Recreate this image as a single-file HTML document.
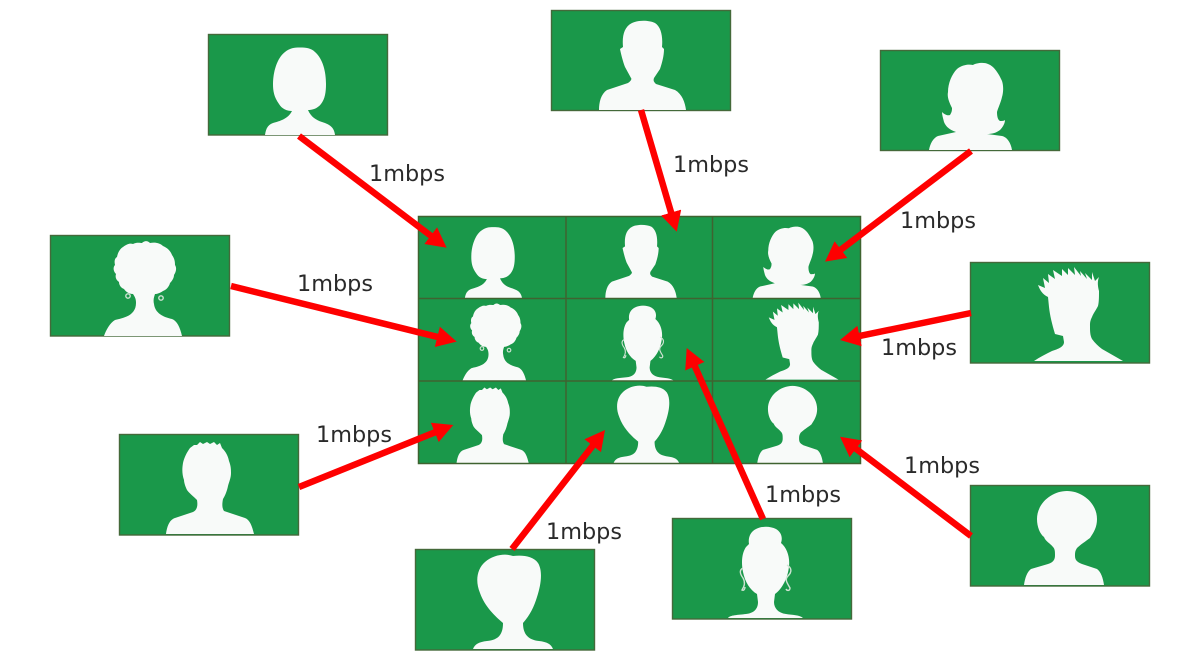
<!DOCTYPE html>
<html><head><meta charset="utf-8"><title>Diagram</title>
<style>
html,body{margin:0;padding:0;background:#fff;width:1200px;height:660px;overflow:hidden}
svg{display:block}
text{font-family:"DejaVu Sans",sans-serif;font-size:22.3px;fill:#2a2a2a}
.t{fill:#1a984a;stroke:#44693a;stroke-width:1.4}
.s{fill:#f8faf9}
.c{fill:none;stroke:#cfe3d3;stroke-width:1.4}
.a{stroke:#fe0000;stroke-width:6.5;fill:none}
</style></head><body>
<svg width="1200" height="660" viewBox="0 0 1200 660" xmlns="http://www.w3.org/2000/svg">
<defs>
<marker id="h" markerUnits="userSpaceOnUse" markerWidth="24" markerHeight="24" refX="6" refY="10.5" orient="auto"><path d="M0,0 L20,10.5 L0,21 Z" fill="#fe0000"/></marker>
<symbol id="p1" overflow="visible"><path class="s" d="M57,101 C58,94 60,91 65,89 C72,87 80,85 84,77 C79,77 74,75 71,70 C66,63 65,57 65,50 C65,38 69,24 77,18 C82,14 86,13.500 92,13.500 C98,13.500 103,14 107,18 C115,25 118,38 118,50 C118,58 117,65 113,70 C109,75 104,76 100,76 C103,83 108,86 114,88 C120,90 126,92 127,101 Z"/></symbol>
<symbol id="p2" overflow="visible"><path class="s" d="M48,100 C48,92 50,84 56,80 L77,73 C80,71 81,69 80,68 L74,57 C72,52 70,44 69,39 L72,37 C71,26 73,17 81,13 C87,10 98,10 104,13 C110,17 112,26 111,37 L113,39 C113,46 111,53 109,59 L103,68 C102,71 103,72 105,74 L124,80 C131,84 134,92 135,100 Z"/></symbol>
<symbol id="p3" overflow="visible"><path class="s" d="M49,100 C50,94 53,88 58,86 L76,82 C70,80 66,77 64,72 C63,68 62,65 62,62 C64,64 67,66 70,65 C72,62 72,60 72,58 C69,52 67,47 68,42 C68,33 72,24 77,19 C82,15 88,14 93,15 C96,13 104,12 108,14 C114,16 119,24 122,31 C124,37 123,44 122,47 C121,52 118,58 117,62 C117,67 118,70 120,71 C122,71 124,71 125,70 C125,74 122,78 120,80 C116,83 112,84 107,84 L122,86 C127,87 131,93 132,100 Z"/></symbol>
<symbol id="p4" overflow="visible"><path class="s" d="M54,101 C56,95 60,88 65,85 C73,83 86,81 86,68 C86,64 85,62 83,59 C79,59 76,57 74,54 C71,53 69,50 69,47 C66,45 65,42 66,39 C63,36 63,32 65,30 C64,26 65,23 67,22 C68,17 70,14 73,12 C77,9 80,8 83,9 C87,7 90,8 92,8 C95,5 98,6 100,8 C105,7 110,8 113,11 C118,13 121,17 122,20 C125,24 125,28 125,30 C127,33 126,37 124,40 C124,43 122,46 120,48 C119,52 116,55 113,56 C110,58 107,59 105,59 C104,62 103,65 104,69 C105,78 113,82 122,84 C127,86 130,92 132,101 Z"/><circle class="c" cx="78" cy="61" r="2.2"/><circle class="c" cx="111" cy="63" r="2.2"/></symbol>
<symbol id="p5" overflow="visible"><path class="s" d="M64,99 C70,95 76,92 82,89 C88,87 94,85 94,80 L93,74 L85,72 C82,62 80,54 79,45 L78,35 C72,32 70,28 68,23 L75,26 L73,16 L79,21 L78,12 L85,17 L83,8 L92,14 L92,7 L98,13 L98,6 L105,13 L104,5 L111,14 L110,9 L117,17 L115,11 L122,18 L122,10 L125,19 L129,15 C127,20 128,25 129,29 C129,35 129,40 128,44 C126,48 123,52 122,55 C120,59 120,61 120,64 C120,69 120,73 122,77 C125,81 128,84 132,87 L153,99 Z"/></symbol>
<symbol id="p6" overflow="visible"><path class="s" d="M56,100 C58,97 66,97 74,96 C83,95 86,90 86,84 L85,76 C78,72 73,64 71,54 C69,44 70,35 74,29 L77,26 C76,20 78,14 84,11 C90,8 98,8 104,11 C109,14 111,19 109,25 C115,30 118,39 117,48 C116,60 110,71 103,76 L102,84 C102,90 106,95 114,96 C120,97 128,97 131,100 Z"/><path class="c" d="M71,50 C67,52 68,56 71,60 C74,65 72,69 70,72 C72,73 73,71 73,69"/><path class="c" d="M115,47 C120,50 120,54 116,58 C112,62 116,66 118,70 C118,73 115,73 114,71"/></symbol>
<symbol id="p7" overflow="visible"><path class="s" d="M47,100 C48,93 50,86 56,84 L74,78 C78,76 79,72 78,66 C74,62 70,59 68,56 C66,52 65,48 65,46 C63,40 63,35 64,29 C65,24 68,18 71,14 L75,11 L78,11 L81,8 L84,10 L88,8 L91,10 L95,8 L98,11 L101,9 L103,14 C107,18 109,22 110,27 C112,32 112,36 112,39 C112,44 110,48 109,52 C108,57 106,62 104,65 C103,70 103,74 105,77 L126,84 C131,86 133,92 135,100 Z"/></symbol>
<symbol id="p8" overflow="visible"><path class="s" d="M58,100 C60,95 64,93 72,92 C82,91 88,87 88,74 C80,67 70,58 65,44 C60,32 62,20 70,13 C78,6 90,4 98,7 C108,6 118,7 123,14 C128,22 126,36 122,48 C119,58 115,66 108,74 C108,86 114,91 124,92 C132,93 136,95 138,100 Z"/></symbol>
<symbol id="p9" overflow="visible"><path class="s" d="M54,100 C55,93 57,87 61,84 L78,79 C84,77 85,74 85,70 C85,67 85,64 83,62 C80,58 76,57 74,52 C70,49 67,42 67,34 C67,18 82,6 97,6 C112,6 127,18 127,34 C127,42 124,47 120,53 C116,56 110,60 107,63 C105,66 105,68 105,71 C105,75 107,77 112,79 L127,84 C131,87 133,93 134,100 Z"/></symbol>
</defs>
<rect width="1200" height="660" fill="#fff"/>

<rect class="t" x="208.500" y="34.500" width="179" height="100.500"/><use href="#p1" x="208" y="34"/>
<rect class="t" x="551.500" y="10.500" width="179" height="100"/><use href="#p2" x="551" y="10"/>
<rect class="t" x="880.500" y="50.500" width="179" height="100"/><use href="#p3" x="880" y="50"/>
<rect class="t" x="50.500" y="235.500" width="179" height="100.500"/><use href="#p4" x="50" y="235"/>
<rect class="t" x="970.500" y="262.500" width="179" height="100.500"/><use href="#p5" x="970" y="262"/>
<rect class="t" x="119.500" y="434.500" width="179" height="100.500"/><use href="#p7" x="119" y="434"/>
<rect class="t" x="970.500" y="485.500" width="179" height="100.500"/><use href="#p9" x="970" y="485"/>
<rect class="t" x="415.500" y="549.500" width="179" height="100.500"/><use href="#p8" x="415" y="549"/>
<rect class="t" x="672.500" y="518.500" width="179" height="100.500"/><use href="#p6" x="672" y="518"/>

<rect x="418.500" y="216.500" width="442" height="247" fill="#1a984a"/>
<use href="#p1" transform="translate(418 216) scale(.82)"/>
<use href="#p2" transform="translate(566 216) scale(.82)"/>
<use href="#p3" transform="translate(712.500 216) scale(.82)"/>
<use href="#p4" transform="translate(418 298.500) scale(.82)"/>
<use href="#p6" transform="translate(566 298.500) scale(.82)"/>
<use href="#p5" transform="translate(713 298.500) scale(.82)"/>
<use href="#p7" transform="translate(418 381) scale(.82)"/>
<use href="#p8" transform="translate(566 381) scale(.82)"/>
<use href="#p9" transform="translate(713 381) scale(.82)"/>
<g fill="none" stroke="#3f6330" stroke-width="1.5">
<rect x="418.500" y="216.500" width="442" height="247"/>
<path d="M566,216.500V463.500M712.500,216.500V463.500M418.500,298.500H860.500M418.500,381H860.500"/>
</g>

<g class="arrows">
<line class="a" x1="299" y1="136" x2="435.500" y2="239.300" marker-end="url(#h)"/>
<line class="a" x1="641" y1="110" x2="672.800" y2="218.300" marker-end="url(#h)"/>
<line class="a" x1="971" y1="151" x2="836.200" y2="253.200" marker-end="url(#h)"/>
<line class="a" x1="231" y1="286" x2="443.100" y2="338.300" marker-end="url(#h)"/>
<line class="a" x1="971" y1="313" x2="853.700" y2="337.200" marker-end="url(#h)"/>
<line class="a" x1="763" y1="519" x2="692.400" y2="360.800" marker-end="url(#h)"/>
<line class="a" x1="299" y1="487" x2="440.300" y2="430.200" marker-end="url(#h)"/>
<line class="a" x1="512" y1="549" x2="596.400" y2="441" marker-end="url(#h)"/>
<line class="a" x1="971" y1="536" x2="851.200" y2="445.200" marker-end="url(#h)"/>
</g>

<text x="369" y="181" textLength="76" lengthAdjust="spacingAndGlyphs">1mbps</text>
<text x="673" y="172" textLength="76" lengthAdjust="spacingAndGlyphs">1mbps</text>
<text x="900" y="228" textLength="76" lengthAdjust="spacingAndGlyphs">1mbps</text>
<text x="297" y="291" textLength="76" lengthAdjust="spacingAndGlyphs">1mbps</text>
<text x="881" y="355" textLength="76" lengthAdjust="spacingAndGlyphs">1mbps</text>
<text x="316" y="442" textLength="76" lengthAdjust="spacingAndGlyphs">1mbps</text>
<text x="904" y="473" textLength="76" lengthAdjust="spacingAndGlyphs">1mbps</text>
<text x="765" y="502" textLength="76" lengthAdjust="spacingAndGlyphs">1mbps</text>
<text x="546" y="539" textLength="76" lengthAdjust="spacingAndGlyphs">1mbps</text>
</svg>
</body></html>
